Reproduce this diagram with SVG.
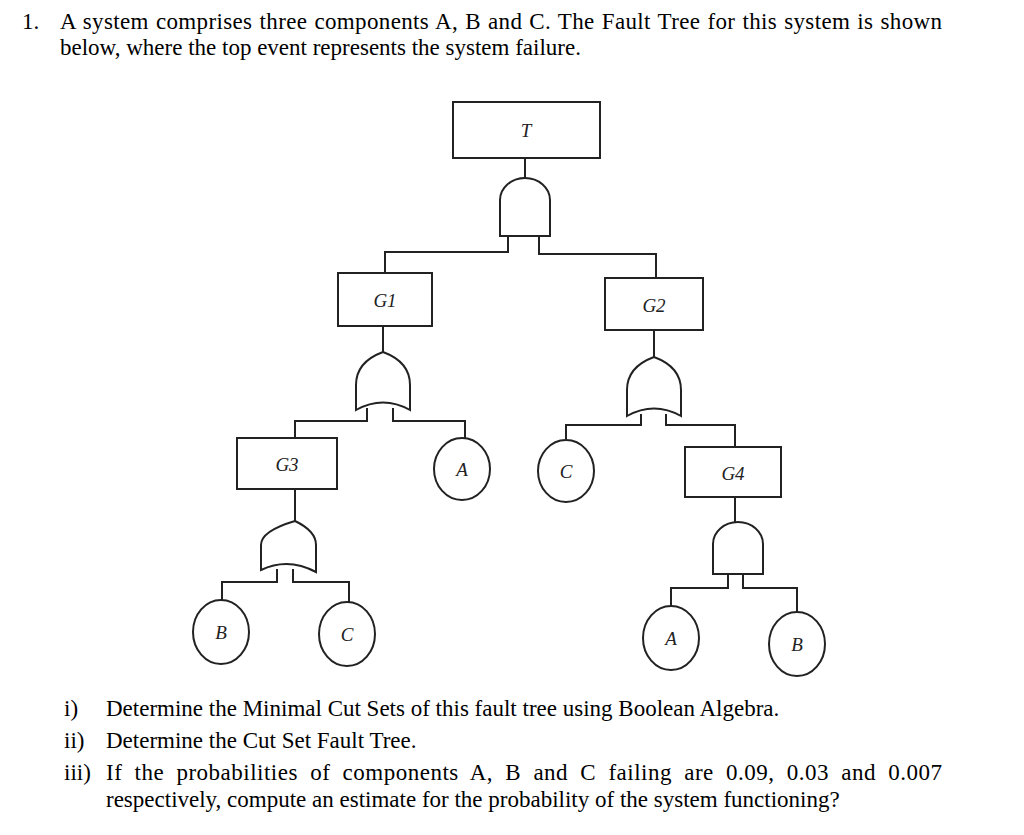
<svg xmlns="http://www.w3.org/2000/svg" width="1024" height="835" viewBox="0 0 1024 835">
<style>
.b{fill:#fff;stroke:#222;stroke-width:2}
.c{fill:none;stroke:#222;stroke-width:2}
.l{font-family:"Liberation Serif",serif;font-style:italic;font-size:19px;fill:#222;text-anchor:middle}
.t{font-family:"Liberation Serif",serif;font-size:23px;fill:#000}
</style>
<rect width="1024" height="835" fill="#fff"/>
<text class="t" x="22" y="29">1.</text>
<text class="t" x="60" y="29" textLength="882" lengthAdjust="spacing" style="word-spacing:1px">A system comprises three components A, B and C. The Fault Tree for this system is shown</text>
<text class="t" x="60" y="55">below, where the top event represents the system failure.</text>
<g id="connectors" class="c">
<path d="M525 158V180M508 236V252H385V273M539 236V254H656V278"/>
<path d="M383 326V352M367 408V421H295V438M393 408V421H465V438"/>
<path d="M654 330V357M641 414V425H566V439M666 414V425H735V447"/>
<path d="M295 489V521M277 569V582H222V600M293 569V582H349V602"/>
<path d="M735 497V522M728 574V588H671V606M743 574V588H797V612"/>
</g>
<g id="T"><rect class="b" x="453" y="102" width="147" height="56"/><text class="l" x="526" y="137">T</text></g>
<g id="gT"><path class="b" d="M500 236V200A25 22 0 0 1 550 200V236Z"/></g>
<g id="G1"><rect class="b" x="338" y="273" width="94" height="53"/><text class="l" x="385" y="307">G1</text></g>
<g id="gG1"><path class="b" d="M356 410V385Q356 362 383 352Q410 362 410 385V410Q383 395 356 410Z"/></g>
<g id="G2"><rect class="b" x="605" y="278" width="98" height="52"/><text class="l" x="654" y="312">G2</text></g>
<g id="gG2"><path class="b" d="M627 416V390Q627 367 654 357Q681 367 681 390V416Q654 401 627 416Z"/></g>
<g id="G3"><rect class="b" x="237" y="438" width="100" height="51"/><text class="l" x="287" y="471">G3</text></g>
<g id="gG3"><path class="b" d="M261 570V545Q261 531 295 521Q316 531 316 545V572Q288 557 261 570Z"/></g>
<g id="A1"><ellipse class="b" cx="462" cy="469" rx="28" ry="31"/><text class="l" x="462" y="476">A</text></g>
<g id="C1"><ellipse class="b" cx="566" cy="471" rx="28" ry="31"/><text class="l" x="566" y="478">C</text></g>
<g id="G4"><rect class="b" x="685" y="447" width="96" height="50"/><text class="l" x="733" y="480">G4</text></g>
<g id="gG4"><path class="b" d="M713 574V544A25 22 0 0 1 763 544V574Z"/></g>
<g id="B1"><ellipse class="b" cx="221" cy="632" rx="28" ry="32"/><text class="l" x="221" y="639">B</text></g>
<g id="C2"><ellipse class="b" cx="347" cy="634" rx="28" ry="32"/><text class="l" x="347" y="641">C</text></g>
<g id="A2"><ellipse class="b" cx="671" cy="638" rx="28" ry="32"/><text class="l" x="671" y="645">A</text></g>
<g id="B2"><ellipse class="b" cx="797" cy="644" rx="28" ry="32"/><text class="l" x="797" y="651">B</text></g>
<text class="t" x="64" y="716">i)</text>
<text class="t" x="106" y="716">Determine the Minimal Cut Sets of this fault tree using Boolean Algebra.</text>
<text class="t" x="64" y="748">ii)</text>
<text class="t" x="106" y="748">Determine the Cut Set Fault Tree.</text>
<text class="t" x="64" y="780">iii)</text>
<text class="t" x="106" y="780" textLength="836" lengthAdjust="spacing" style="word-spacing:6px">If the probabilities of components A, B and C failing are 0.09, 0.03 and 0.007</text>
<text class="t" x="106" y="807">respectively, compute an estimate for the probability of the system functioning?</text>
</svg>
